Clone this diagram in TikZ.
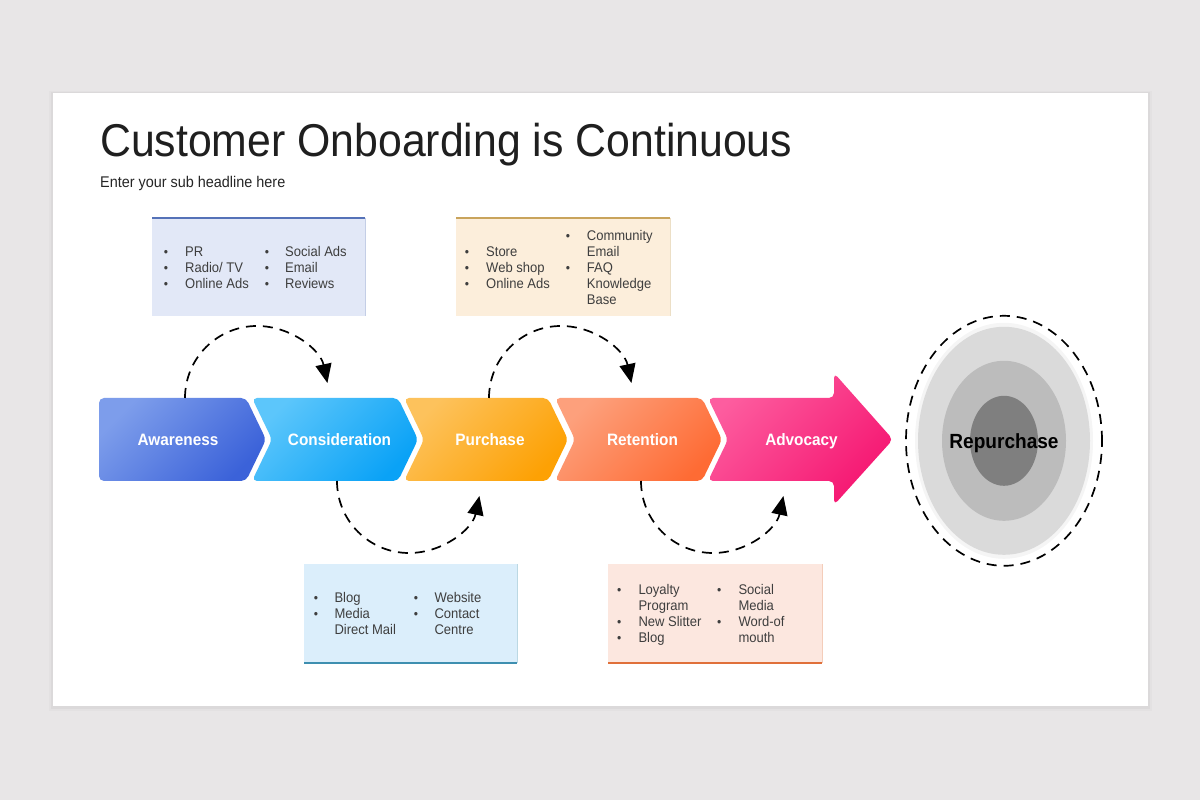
\documentclass[tikz,border=0pt]{standalone}
\usepackage{fontspec}
\setmainfont{Liberation Sans}[FakeStretch=0.93]
\usetikzlibrary{arrows.meta}
\definecolor{bg}{HTML}{E8E6E7}
\definecolor{txtc}{HTML}{3E3E3E}
\definecolor{awA}{HTML}{7D9DEB}\definecolor{awB}{HTML}{3B62D9}
\definecolor{coA}{HTML}{5CC6FB}\definecolor{coB}{HTML}{0AA2F6}
\definecolor{puA}{HTML}{FDC25C}\definecolor{puB}{HTML}{FDA104}
\definecolor{reA}{HTML}{FDA07C}\definecolor{reB}{HTML}{FE6B34}
\definecolor{adA}{HTML}{FD5D9F}\definecolor{adB}{HTML}{F51671}
\definecolor{b1f}{HTML}{E2E8F7}\definecolor{b1e}{HTML}{5572B8}
\definecolor{b2f}{HTML}{FCEEDB}\definecolor{b2e}{HTML}{C9A45C}
\definecolor{b3f}{HTML}{DBEEFB}\definecolor{b3e}{HTML}{3E8FB0}
\definecolor{b4f}{HTML}{FCE7DF}\definecolor{b4e}{HTML}{E0703A}
\definecolor{g1}{HTML}{DADADA}\definecolor{g2}{HTML}{BCBCBC}\definecolor{g3}{HTML}{7F7F7F}
\newcommand\itm[4]{\node[txt] (#1) at (#2,#3) {#4};}
\newcommand\bul[3]{\node[bulsty] (#1) at (#2,#3) {•};}
\begin{document}
\begin{tikzpicture}[x=1pt,y=1pt,
  txt/.style={anchor=base west,inner sep=0pt,text=txtc,font=\fontsize{14}{16}\selectfont},
  bulsty/.style={anchor=base,inner sep=0pt,text=txtc,font=\fontsize{13}{16}\selectfont},
  lab/.style={anchor=base,inner sep=0pt,text=white,font=\bfseries\fontsize{16.5}{19}\selectfont},
  chev/.style={rounded corners=5pt,shading angle=45},
  loop/.style={line width=1.7pt,dash pattern=on 10pt off 7pt,-{Triangle[length=19pt,width=16pt]}}]
\useasboundingbox (0,0) rectangle (1200,800);
\fill[bg] (0,0) rectangle (1200,800);
% card shadow
\fill[black,opacity=0.02] (49,89) rectangle (1152,709);
\fill[black,opacity=0.03] (51,91) rectangle (1150,708);
\fill[white] (53,94) rectangle (1148,707);
% title
\node[anchor=base west,inner sep=0pt,text=black!88,font=\fontsize{46}{50}\selectfont] (title) at (100,643.3) {Customer Onboarding is Continuous};
\node[anchor=base west,inner sep=0pt,text=black!85,font=\fontsize{15.5}{18}\selectfont] (sub) at (100,612.7) {Enter your sub headline here};
% boxes
\fill[b1f] (152,484) rectangle (365,582);
\draw[b1e,line width=1.2pt] (152,582) -- (365,582);
\draw[b1e!35,line width=0.8pt] (365,582) -- (365,484);
\fill[b2f] (456,484) rectangle (670,582);
\draw[b2e,line width=1.2pt] (456,582) -- (670,582);
\draw[b2e!35,line width=0.8pt] (670,582) -- (670,484);
\fill[b3f] (304,137) rectangle (517,236);
\draw[b3e,line width=1.2pt] (304,137) -- (517,137);
\draw[b3e!35,line width=0.8pt] (517,137) -- (517,236);
\fill[b4f] (608,137) rectangle (822,236);
\draw[b4e,line width=1.2pt] (608,137) -- (822,137);
\draw[b4e!35,line width=0.8pt] (822,137) -- (822,236);
% box 1 text
\bul{b1a}{166}{543.5}\bul{b1b}{166}{527.5}\bul{b1c}{166}{511.5}
\itm{t1a}{185}{543.5}{PR}\itm{t1b}{185}{527.5}{Radio/ TV}\itm{t1c}{185}{511.5}{Online Ads}
\bul{b1d}{267}{543.5}\bul{b1e}{267}{527.5}\bul{b1f}{267}{511.5}
\itm{t1d}{285}{543.5}{Social Ads}\itm{t1e}{285}{527.5}{Email}\itm{t1f}{285}{511.5}{Reviews}
% box 2 text
\bul{b2a}{467}{543.3}\bul{b2b}{467}{527.3}\bul{b2c}{467}{511.3}
\itm{t2a}{486}{543.3}{Store}\itm{t2b}{486}{527.3}{Web shop}\itm{t2c}{486}{511.3}{Online Ads}
\bul{b2d}{568}{559.3}\bul{b2e}{568}{527.3}
\itm{t2d}{586.7}{559.3}{Community}\itm{t2e}{586.7}{543.3}{Email}\itm{t2f}{586.7}{527.3}{FAQ}
\itm{t2g}{586.7}{511.3}{Knowledge}\itm{t2h}{586.7}{495.3}{Base}
% box 3 text
\bul{b3a}{316}{197.3}\bul{b3b}{316}{181.3}
\itm{t3a}{334.3}{197.3}{Blog}\itm{t3b}{334.3}{181.3}{Media}\itm{t3c}{334.3}{165.3}{Direct Mail}
\bul{b3c}{416}{197.3}\bul{b3d}{416}{181.3}
\itm{t3d}{434.3}{197.3}{Website}\itm{t3e}{434.3}{181.3}{Contact}\itm{t3f}{434.3}{165.3}{Centre}
% box 4 text
\bul{b4a}{619.3}{205.5}\bul{b4b}{619.3}{173.5}\bul{b4c}{619.3}{157.5}
\itm{t4a}{638.3}{205.5}{Loyalty}\itm{t4b}{638.3}{189.5}{Program}\itm{t4c}{638.3}{173.5}{New Slitter}\itm{t4d}{638.3}{157.5}{Blog}
\bul{b4d}{719.3}{205.5}\bul{b4e}{719.3}{173.5}
\itm{t4e}{738.3}{205.5}{Social}\itm{t4f}{738.3}{189.5}{Media}\itm{t4g}{738.3}{173.5}{Word-of}\itm{t4h}{738.3}{157.5}{mouth}
% chevrons
\shade[chev,top color=awA,bottom color=awB,shading angle=45] (99,319) -- (99,402) -- (246,402) -- (266,360.5) -- (246,319) -- cycle;
\shade[chev,top color=coA,bottom color=coB,shading angle=45] (252,402) -- (398,402) -- (418,360.5) -- (398,319) -- (252,319) -- (272,360.5) -- cycle;
\shade[chev,top color=puA,bottom color=puB,shading angle=45] (404,402) -- (548,402) -- (568,360.5) -- (548,319) -- (404,319) -- (424,360.5) -- cycle;
\shade[chev,top color=reA,bottom color=reB,shading angle=45] (555,402) -- (702,402) -- (722,360.5) -- (702,319) -- (555,319) -- (575,360.5) -- cycle;
\shade[chev,top color=adA,bottom color=adB,shading angle=45] (708,402) -- (834,402) -- (834,427) -- (893,360.5) -- (834,295) -- (834,319) -- (708,319) -- (728,360.5) -- cycle;
\node[lab] (aw) at (178,354.5) {Awareness};
\node[lab] (co) at (339.5,354.5) {Consideration};
\node[lab] (pu) at (490,354.5) {Purchase};
\node[lab] (re) at (642.5,354.5) {Retention};
\node[lab] (ad) at (801.5,354.5) {Advocacy};
% loop connectors
\coordinate (awTop) at (185,402);
\coordinate (puTop) at (489,402);
\coordinate (coBot) at (337,319);
\coordinate (reBot) at (641,319);
\draw[loop] (awTop) arc[start angle=180,end angle=12,radius=72];
\draw[loop] (puTop) arc[start angle=180,end angle=12,radius=72];
\draw[loop] (coBot) arc[start angle=180,end angle=348,radius=72];
\draw[loop] (reBot) arc[start angle=180,end angle=348,radius=72];
% repurchase
\coordinate (rc) at (1004,359.2);
\fill[black,opacity=0.04] (rc) ellipse[x radius=89,y radius=118];
\fill[g1] (rc) ellipse[x radius=86,y radius=114];
\fill[g2] (rc) ellipse[x radius=62,y radius=80];
\fill[g3] (rc) ellipse[x radius=34,y radius=45];
\draw[line width=1.7pt,dash pattern=on 10pt off 7pt] (rc) ellipse[x radius=98,y radius=125];
\node[anchor=base,inner sep=0pt,text=black,font=\bfseries\fontsize{20.5}{24}\selectfont] (rp) at (1004,351.7) {Repurchase};
\end{tikzpicture}
\end{document}
